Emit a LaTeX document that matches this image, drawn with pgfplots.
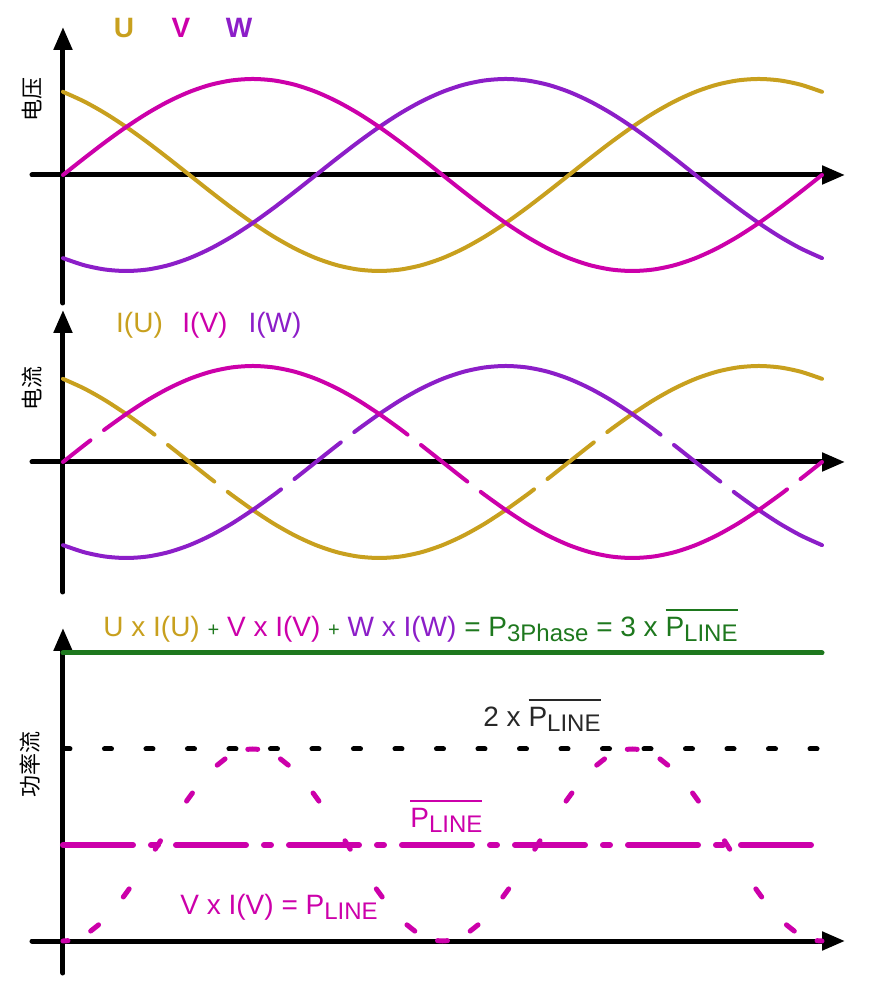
\documentclass[border=0pt]{standalone}
\usepackage{fontspec}
\setmainfont{Liberation Sans}
\newfontfamily\cjk{Noto Sans CJK SC}
\usepackage{pgfplots}
\pgfplotsset{compat=1.18}
\usepackage{pgfplotstable}
\usetikzlibrary{arrows.meta}

\definecolor{cU}{RGB}{200,160,30}
\definecolor{cV}{RGB}{204,0,170}
\definecolor{cW}{RGB}{140,30,200}
\definecolor{cG}{RGB}{30,120,30}
\definecolor{cT}{RGB}{40,40,40}

\newcommand{\sub}[1]{\raisebox{-2.5pt}{\fontsize{12}{14}\selectfont #1}}
\newcommand{\ovl}[1]{\vbox{\hrule height 0.7pt\kern 3.5pt\hbox{#1}}}

\pgfplotstableread{
t V U W
0 0 0.8660 -0.8660
10 0.1736 0.7660 -0.9397
20 0.3420 0.6428 -0.9848
30 0.5 0.5 -1
40 0.6428 0.3420 -0.9848
50 0.7660 0.1736 -0.9397
60 0.8660 0 -0.8660
70 0.9397 -0.1736 -0.7660
80 0.9848 -0.3420 -0.6428
90 1 -0.5 -0.5
100 0.9848 -0.6428 -0.3420
110 0.9397 -0.7660 -0.1736
120 0.8660 -0.8660 0
130 0.7660 -0.9397 0.1736
140 0.6428 -0.9848 0.3420
150 0.5 -1 0.5
160 0.3420 -0.9848 0.6428
170 0.1736 -0.9397 0.7660
180 0 -0.8660 0.8660
190 -0.1736 -0.7660 0.9397
200 -0.3420 -0.6428 0.9848
210 -0.5 -0.5 1
220 -0.6428 -0.3420 0.9848
230 -0.7660 -0.1736 0.9397
240 -0.8660 0 0.8660
250 -0.9397 0.1736 0.7660
260 -0.9848 0.3420 0.6428
270 -1 0.5 0.5
280 -0.9848 0.6428 0.3420
290 -0.9397 0.7660 0.1736
300 -0.8660 0.8660 0
310 -0.7660 0.9397 -0.1736
320 -0.6428 0.9848 -0.3420
330 -0.5 1 -0.5
340 -0.3420 0.9848 -0.6428
350 -0.1736 0.9397 -0.7660
360 0 0.8660 -0.8660
}\wave

\pgfplotsset{
  panel/.style={scale only axis, width=406.5pt, xmin=-14.70, xmax=370.91,
    axis lines=middle, xtick=\empty, ytick=\empty,
    axis line style={line width=2.5pt, line cap=round, -{Triangle[length=11.5pt,width=9pt]}},
    clip=false, anchor=south west},
  crv/.style={line width=2pt, smooth, no markers, line cap=round},
  dsh/.style={crv, dash pattern=on 29.5pt off 8.5pt, dash phase=12pt},
}

\begin{document}
\begin{tikzpicture}
\useasboundingbox (0,0) rectangle (434.5pt,492pt);

% ---------- voltage ----------
\begin{axis}[panel, at={(16pt,340.5pt)}, height=138pt, ymin=-1.3333, ymax=1.5417]
\addplot[crv, cU] table[x=t,y=U] {\wave};
\addplot[crv, cW] table[x=t,y=W] {\wave};
\addplot[crv, cV] table[x=t,y=V] {\wave};
\end{axis}

% ---------- current ----------
\begin{axis}[panel, at={(16pt,196pt)}, height=141pt, ymin=-1.3542, ymax=1.5833]
% U
\addplot[crv, cU, restrict x to domain=0:30] table[x=t,y=U] {\wave};
\addplot[dsh, cU, restrict x to domain=30:90] table[x=t,y=U] {\wave};
\addplot[crv, cU, restrict x to domain=90:210] table[x=t,y=U] {\wave};
\addplot[dsh, cU, restrict x to domain=210:270] table[x=t,y=U] {\wave};
\addplot[crv, cU, restrict x to domain=270:360] table[x=t,y=U] {\wave};
% W
\addplot[crv, cW, restrict x to domain=0:90] table[x=t,y=W] {\wave};
\addplot[dsh, cW, restrict x to domain=90:150] table[x=t,y=W] {\wave};
\addplot[crv, cW, restrict x to domain=150:270] table[x=t,y=W] {\wave};
\addplot[dsh, cW, restrict x to domain=270:330] table[x=t,y=W] {\wave};
\addplot[crv, cW, restrict x to domain=330:360] table[x=t,y=W] {\wave};
% V
\addplot[dsh, cV, restrict x to domain=0:30] table[x=t,y=V] {\wave};
\addplot[crv, cV, restrict x to domain=30:150] table[x=t,y=V] {\wave};
\addplot[dsh, cV, restrict x to domain=150:210] table[x=t,y=V] {\wave};
\addplot[crv, cV, restrict x to domain=210:330] table[x=t,y=V] {\wave};
\addplot[dsh, cV, restrict x to domain=330:360] table[x=t,y=V] {\wave};
\end{axis}

% ---------- power ----------
\begin{axis}[panel, at={(16pt,5.5pt)}, height=172.5pt, ymin=-0.3333, ymax=3.2604]
\addplot[cG, line width=2.5pt, line cap=round] coordinates {(0,3) (360,3)};
\addplot[black, line width=2.5pt, line cap=round, dash pattern=on 3.5pt off 17.25pt] coordinates {(0,2) (360,2)};
% V x I(V): short dashes centred every 15 degrees
\addplot[cV, line width=2.5pt, line cap=round, unbounded coords=jump] coordinates {
(0,0) (2.37,0.0034) (5,nan)
(13.14,0.1034) (16.86,0.1682) (20,nan)
(28.61,0.4585) (31.39,0.5426) (35,nan)
(43.74,0.9560) (46.26,1.0440) (50,nan)
(58.61,1.4574) (61.39,1.5415) (65,nan)
(73.14,1.8318) (76.86,1.8966) (80,nan)
(87.63,1.9966) (90,2) (92.37,1.9966) (95,nan)
(103.14,1.8966) (106.86,1.8318) (110,nan)
(118.61,1.5415) (121.39,1.4574) (125,nan)
(133.74,1.0440) (136.26,0.9560) (140,nan)
(148.61,0.5426) (151.39,0.4585) (155,nan)
(163.14,0.1682) (166.86,0.1034) (170,nan)
(177.63,0.0034) (180,0) (182.37,0.0034) (185,nan)
(193.14,0.1034) (196.86,0.1682) (200,nan)
(208.61,0.4585) (211.39,0.5426) (215,nan)
(223.74,0.9560) (226.26,1.0440) (230,nan)
(238.61,1.4574) (241.39,1.5415) (245,nan)
(253.14,1.8318) (256.86,1.8966) (260,nan)
(267.63,1.9966) (270,2) (272.37,1.9966) (275,nan)
(283.14,1.8966) (286.86,1.8318) (290,nan)
(298.61,1.5415) (301.39,1.4574) (305,nan)
(313.74,1.0440) (316.26,0.9560) (320,nan)
(328.61,0.5426) (331.39,0.4585) (335,nan)
(343.14,0.1682) (346.86,0.1034) (350,nan)
(357.63,0.0034) (360,0)
};
\addplot[cV, line width=3pt, line cap=round, dash pattern=on 35pt off 9pt on 3.5pt off 9pt] coordinates {(0,1) (360,1)};
\end{axis}

% ---------- labels ----------
\node[rotate=90, font=\cjk\fontsize{11}{13}\selectfont] at (16pt,442pt) {电压};
\node[rotate=90, font=\cjk\fontsize{11}{13}\selectfont] at (16pt,297.5pt) {电流};
\node[rotate=90, font=\cjk\fontsize{11}{13}\selectfont] at (15pt,109.5pt) {功率流};

\node[anchor=base, text=cU, font=\fontsize{14}{16}\selectfont\bfseries] at (62pt,473pt) {U};
\node[anchor=base, text=cV, font=\fontsize{14}{16}\selectfont\bfseries] at (90.5pt,473pt) {V};
\node[anchor=base, text=cW, font=\fontsize{14}{16}\selectfont\bfseries] at (119.5pt,473pt) {W};

\node[anchor=base, text=cU, font=\fontsize{14}{16}\selectfont] at (69.75pt,325.5pt) {I(U)};
\node[anchor=base, text=cV, font=\fontsize{14}{16}\selectfont] at (102.5pt,325.5pt) {I(V)};
\node[anchor=base, text=cW, font=\fontsize{14}{16}\selectfont] at (137.5pt,325.5pt) {I(W)};

\node[anchor=base west, inner sep=0pt, font=\fontsize{14}{16}\selectfont] at (51.5pt,173.5pt)
 {\textcolor{cU}{U x I(U)} \textcolor{cG}{\fontsize{10}{12}\selectfont +} \textcolor{cV}{V x I(V)} \textcolor{cG}{\fontsize{10}{12}\selectfont +} \textcolor{cW}{W x I(W)} \textcolor{cG}{= P\sub{3Phase} = 3 x \ovl{P\sub{LINE}}}};

\node[anchor=base west, inner sep=0pt, text=cT, font=\fontsize{14}{16}\selectfont] at (241.5pt,128.5pt) {2 x \ovl{P\sub{LINE}}};
\node[anchor=base west, inner sep=0pt, text=cV, font=\fontsize{14}{16}\selectfont] at (205pt,78pt) {\ovl{P\sub{LINE}}};
\node[anchor=base west, inner sep=0pt, text=cV, font=\fontsize{14}{16}\selectfont] at (90pt,34.5pt) {V x I(V) = P\sub{LINE}};
\end{tikzpicture}
\end{document}
